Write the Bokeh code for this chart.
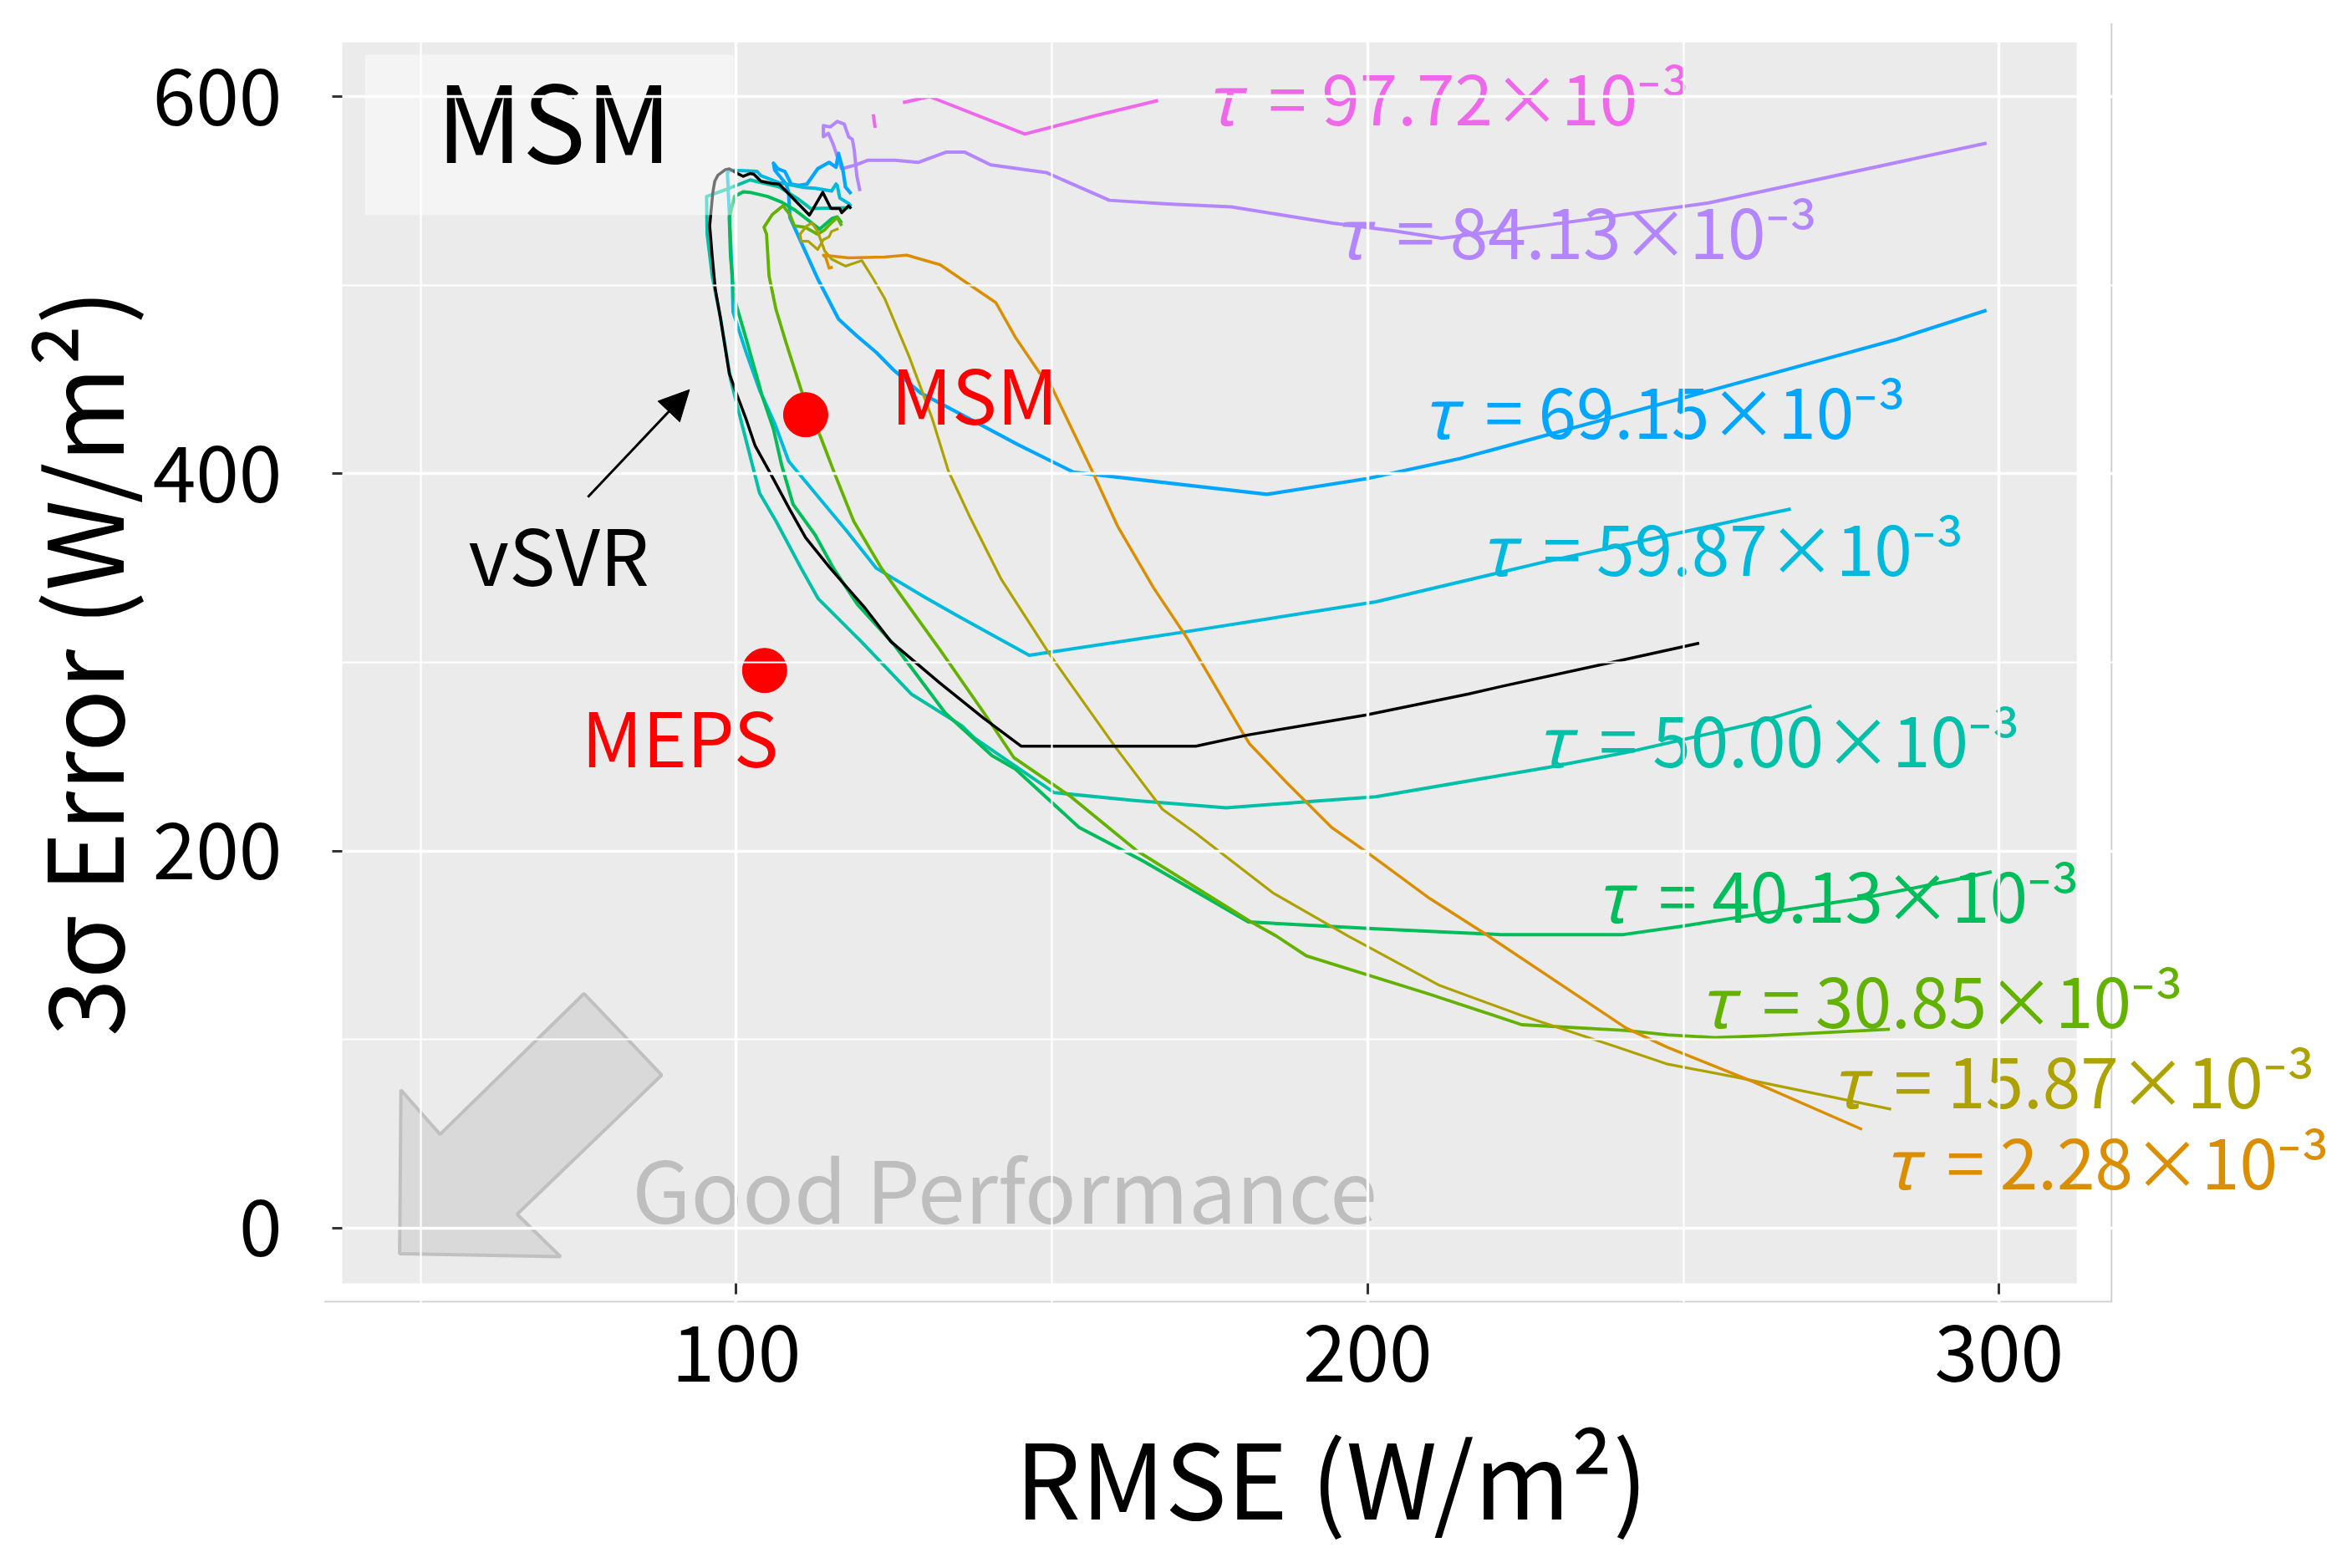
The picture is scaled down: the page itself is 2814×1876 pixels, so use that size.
import math
from bokeh.plotting import figure
from bokeh.models import Range1d, FixedTicker, Arrow, NormalHead
from bokeh.core.properties import value
from bokeh.embed import file_html
from bokeh.resources import INLINE

nan = float("nan")
FONT = "Noto Sans CJK JP"

# ---------------- data ----------------
tau_text = ["97.72", "84.13", "69.15", "59.87", "50.00", "40.13", "30.85", "15.87", "2.28"]
tau_colors = ["#EF67EB", "#B385FF", "#00A6FF", "#00BADE", "#00C1A7",
              "#00BD5C", "#64B200", "#AEA200", "#DB8E00"]

tau9772_x = [121.7, 122.0, nan, 126.4, 130.6, 145.7, 156.8, 166.8]
tau9772_y = [590.6, 583.4, nan, 596.8, 600.0, 580.1, 589.8, 597.9]

tau8413_x = [119.6, 119.1, 118.7, 118.4, 117.8, 117.1, 116.0, 114.9, 113.8, 113.8, 114.6, 115.4,
             116.2, 116.7, 119.1, 120.8, 125.2, 128.8, 133.2, 136.2, 140.3, 149.1, 159.1, 168.3,
             178.4, 194.5, 204.0, 211.7, 227.8, 254.0, 298.0]
tau8413_y = [549.9, 558.0, 571.3, 577.2, 578.7, 585.4, 586.8, 583.9, 584.6, 578.7, 580.5, 574.3,
             566.2, 561.7, 563.9, 566.2, 566.2, 565.1, 570.5, 570.5, 563.8, 559.7, 545.0, 543.1,
             541.5, 532.9, 528.9, 524.9, 531.6, 543.6, 575.3]

tau6915_x = [118.2, 117.3, 116.9, 116.2, 115.8, 114.7, 112.9, 111.2, 109.9, 108.7, 107.7, 106.6,
             105.9, 106.1, 107.9, 108.3, 108.5, 110.3, 112.9, 116.2, 119.1, 122.2, 124.8, 129.2,
             136.7, 144.6, 153.4, 184.0, 199.8, 214.7, 251.6, 283.7, 298.0]
tau6915_y = [548.4, 552.1, 561.0, 569.9, 562.5, 565.1, 561.7, 553.6, 552.9, 553.6, 560.3, 561.7,
             564.7, 561.0, 553.6, 549.2, 535.9, 522.6, 503.4, 482.0, 473.1, 464.3, 455.4, 442.9,
             429.6, 415.5, 400.9, 389.1, 397.4, 408.1, 441.7, 471.2, 486.7]

tau5987_x = [118.2, 117.8, 116.4, 116.0, 115.8, 115.1, 112.5, 110.7, 109.0, 106.8, 103.9, 103.3,
             98.9, 98.6, 98.9, 99.3, 99.5, 101.5, 103.7, 106.1, 108.3, 112.5, 117.3, 122.2,
             129.8, 135.4, 146.4, 149.9, 170.5, 201.3, 227.8, 261.1, 267.0]
tau5987_y = [541.8, 543.3, 546.2, 552.9, 553.6, 549.9, 551.4, 551.8, 552.9, 554.3, 558.1, 560.3,
             561.0, 559.5, 538.8, 509.3, 485.7, 465.0, 444.3, 426.6, 406.7, 389.7, 370.5, 349.9,
             334.7, 324.0, 303.8, 305.5, 315.9, 332.1, 353.1, 377.2, 381.3]

tau5000_x = [117.8, 111.8, 109.9, 106.8, 102.2, 98.6, 95.3, 95.4, 96.2, 97.5, 99.1, 100.2,
             103.7, 106.3, 110.3, 113.0, 119.8, 127.7, 135.7, 137.8, 150.3, 162.7, 177.6, 190.3,
             201.3, 228.5, 240.9, 260.9, 270.3]
tau5000_y = [541.1, 540.6, 545.5, 552.1, 555.8, 551.0, 547.0, 527.0, 504.9, 482.7, 450.2, 435.5,
             389.7, 374.9, 349.8, 333.7, 311.0, 283.3, 266.5, 259.7, 231.0, 226.9, 222.9, 226.1,
             228.8, 244.3, 252.2, 267.4, 276.9]

tau4013_x = [116.7, 116.0, 115.1, 113.2, 111.4, 109.4, 107.2, 105.0, 102.2, 101.1, 99.7, 98.9,
             99.1, 99.7, 101.5, 104.1, 105.9, 107.2, 109.0, 112.5, 115.4, 119.2, 125.0, 133.1,
             140.5, 144.2, 154.3, 164.4, 181.1, 201.3, 221.1, 240.5, 249.7, 265.1, 278.3, 293.7,
             298.8]
tau4013_y = [532.9, 536.2, 535.2, 529.7, 534.4, 539.6, 544.0, 547.0, 549.2, 549.5, 547.0, 535.9,
             515.2, 493.0, 472.4, 441.4, 423.7, 404.5, 383.8, 367.6, 349.9, 330.7, 309.4, 273.2,
             250.6, 243.5, 212.5, 194.8, 162.4, 158.7, 155.7, 155.7, 160.1, 168.2, 174.9, 185.2,
             189.0]

tau3085_x = [116.7, 116.0, 115.1, 114.0, 112.9, 110.9, 109.2, 108.5, 107.4, 105.7, 104.4, 104.8,
             105.2, 106.3, 107.9, 110.3, 113.4, 115.6, 118.6, 123.0, 132.2, 139.2, 144.0, 153.0,
             163.5, 181.5, 185.5, 190.3, 209.8, 224.4, 240.9, 247.5, 255.0, 262.9, 282.7]
tau3085_y = [531.5, 535.9, 533.2, 529.3, 527.0, 530.7, 531.5, 537.4, 542.1, 537.4, 530.7, 527.0,
             504.9, 487.1, 469.4, 444.3, 419.2, 400.0, 374.9, 349.9, 307.0, 273.4, 249.4, 228.8,
             200.0, 162.5, 155.0, 144.4, 124.1, 107.9, 104.9, 102.5, 101.1, 102.1, 105.5]

tau1587_x = [116.2, 115.1, 114.7, 113.8, 112.9, 111.4, 110.3, 110.1, 111.2, 112.0, 112.9, 114.0,
             115.1, 117.3, 119.9, 121.7, 123.5, 127.4, 131.0, 133.6, 137.1, 142.0, 149.4, 153.4,
             160.0, 167.5, 172.7, 185.0, 196.9, 211.4, 224.4, 239.6, 247.5, 258.9, 282.9]
tau1587_y = [530.0, 528.5, 525.6, 524.1, 518.9, 523.3, 523.3, 527.0, 531.5, 532.9, 528.5, 518.2,
             513.8, 510.1, 513.0, 503.4, 493.0, 462.0, 429.6, 401.5, 376.4, 343.9, 305.5, 286.4,
             255.3, 222.1, 209.6, 177.8, 154.9, 128.7, 112.8, 95.9, 87.0, 79.7, 63.1]

tau228_x = [115.3, 114.7, 114.2, 113.8, 117.8, 123.5, 127.0, 132.3, 141.1, 144.2, 148.1, 149.2,
            156.3, 160.4, 166.1, 171.4, 180.2, 181.3, 187.2, 194.3, 199.7, 209.8, 218.5, 240.9,
            247.5, 260.7, 278.3]
tau228_y = [509.6, 509.0, 514.5, 515.9, 514.5, 514.9, 515.9, 510.8, 490.8, 472.4, 453.2, 451.3,
            401.9, 372.2, 339.5, 312.9, 262.7, 256.8, 236.2, 212.5, 199.8, 174.9, 156.3, 106.2,
            95.9, 78.2, 52.4]

vsvr_x = [118.2, 117.8, 116.7, 116.4, 115.0, 113.7, 111.6, 106.8, 105.7, 103.9, 102.8, 102.2,
          101.1, 100.2, 98.9, 98.3, 97.1, 96.6, 96.3, 96.0, 95.8, 96.2, 96.7, 97.5, 98.9, 100.0,
          101.5, 103.0, 105.2, 108.5, 111.0, 114.9, 120.4, 124.5, 132.2, 139.2, 145.1, 172.8,
          181.0, 199.7, 216.0, 221.1, 239.7, 252.5]
vsvr_y = [540.6, 542.1, 538.4, 540.6, 540.6, 549.2, 537.1, 553.6, 553.9, 555.1, 558.8, 559.2,
          557.7, 559.2, 561.7, 561.3, 558.3, 555.1, 549.2, 538.8, 531.5, 515.2, 497.5, 482.7,
          453.2, 442.9, 429.6, 414.8, 401.5, 380.9, 366.1, 349.9, 328.8, 311.0, 289.2, 270.4,
          255.6, 255.6, 261.5, 272.1, 283.3, 287.2, 300.8, 310.2]

ref_names = ["MSM", "MEPS"]
ref_rmse = [111.0, 104.5]
ref_err = [431.3, 295.7]

x_ticks = [100, 200, 300]
x_minor = [50, 150, 250]
y_ticks = [0, 200, 400, 600]
y_minor = [100, 300, 500]

curves_x = [tau9772_x, tau8413_x, tau6915_x, tau5987_x, tau5000_x,
            tau4013_x, tau3085_x, tau1587_x, tau228_x]
curves_y = [tau9772_y, tau8413_y, tau6915_y, tau5987_y, tau5000_y,
            tau4013_y, tau3085_y, tau1587_y, tau228_y]

# ---------------- annotation positions (data units) ----------------
tau_lab_x = [174.2, 194.5, 208.5, 217.7, 226.6, 236.0, 252.4, 273.3, 281.6]
tau_lab_y = [585.2, 514.1, 418.8, 346.4, 245.0, 162.5, 106.5, 64.0, 21.0]
ref_lab_x = [124.5, 75.5]
ref_lab_y = [426.5, 244.7]
curve_widths = [4, 4, 4.2, 4, 4, 4, 3.8, 3.2, 3.5]

BASE = 0.42  # baseline correction (fraction of font size)

def off(size):
    return -BASE * size

X0, X1 = 34.70, 353.83
Y0, Y1 = -39.44, 639.0
W, H = 2798, 1870

p = figure(width=W, height=H,
           x_range=Range1d(X0, X1), y_range=Range1d(Y0, Y1),
           output_backend="svg", toolbar_location=None,
           min_border_left=379, min_border_right=0,
           min_border_top=27, min_border_bottom=H - 1558,
           background_fill_color="white", border_fill_color="white",
           outline_line_color=None)

# gray panel
p.quad(left=[37.6], right=[312.3], bottom=[-29.2], top=[628.7],
       fill_color="#EBEBEB", line_color=None, level="underlay")

xt = FixedTicker(ticks=x_ticks, minor_ticks=x_minor)
yt = FixedTicker(ticks=y_ticks, minor_ticks=y_minor)
p.xaxis.ticker = xt
p.yaxis.ticker = yt
p.xgrid.ticker = xt
p.ygrid.ticker = yt
for g in (p.xgrid, p.ygrid):
    g.level = "glyph"
    g.grid_line_color = "white"
    g.grid_line_width = 3.5
    g.minor_grid_line_color = "white"
    g.minor_grid_line_width = 2.2

for ax in (p.xaxis, p.yaxis):
    ax.axis_line_color = None
    ax.major_tick_line_color = "#333333"
    ax.major_tick_line_width = 3
    ax.major_tick_out = -10
    ax.minor_tick_line_color = None
    ax.minor_tick_out = 0
    ax.minor_tick_in = 0
    ax.major_label_text_font = FONT
    ax.major_label_text_font_size = "93px"
    ax.major_label_text_color = "black"
    ax.axis_label_text_font = FONT
    ax.axis_label_text_font_size = "124px"
    ax.axis_label_text_font_style = "normal"
    ax.axis_label_text_color = "black"
p.xaxis.major_tick_in = 23
p.yaxis.major_tick_in = 22
p.xaxis.major_label_standoff = 26
p.yaxis.major_label_standoff = 50
p.xaxis.axis_label = "RMSE (W/m²)"
p.yaxis.axis_label = "3σ Error (W/m²)"
p.xaxis.axis_label_standoff = 18
p.yaxis.axis_label_standoff = -4

# outer border (right and bottom)
p.segment(x0=[317.8, X0], y0=[Y0, Y0 + 0.45], x1=[317.8, 317.8], y1=[Y1, Y0 + 0.45],
          line_color="#D0D0D0", line_width=2)

# big "good performance" arrow
arrow_x = [46.9, 53.1, 75.9, 88.2, 65.3, 72.2, 46.7]
arrow_y = [73.3, 49.8, 124.4, 81.2, 7.4, -15.1, -13.5]
p.patch(arrow_x, arrow_y, fill_color="#D9D9D9", line_color="#C0C0C0", line_width=4)
p.text(x=[83.5], y=[3.2], text=["Good Performance"], text_font=value(FONT),
       text_font_size="102px", text_color="#BEBEBE", text_align="left",
       text_baseline="alphabetic", y_offset=off(102))

# curves
for cx, cy, col, w in zip(curves_x, curves_y, tau_colors, curve_widths):
    p.line(cx, cy, line_color=col, line_width=w, line_join="round")
p.line(vsvr_x, vsvr_y, line_color="black", line_width=3.5, line_join="round")

# reference forecasts
p.scatter(ref_rmse, ref_err, size=53, color="#FF0000")
p.text(x=ref_lab_x, y=ref_lab_y, text=ref_names, text_font=value(FONT),
       text_font_size="90px", text_color="#FF0000", text_align="left",
       text_baseline="alphabetic", y_offset=off(90))

# vSVR label + arrow
p.text(x=[57.6], y=[341.0], text=["vSVR"], text_font=value(FONT),
       text_font_size="93px", text_color="black", text_align="left",
       text_baseline="alphabetic", y_offset=off(93))
p.add_layout(Arrow(x_start=76.5, y_start=387.6, x_end=92.6, y_end=444.6,
                   line_width=3, line_color="black",
                   end=NormalHead(size=36, fill_color="black", line_color="black")))

# tau labels
for lx, ly, t, col in zip(tau_lab_x, tau_lab_y, tau_text, tau_colors):
    p.text(x=[lx], y=[ly], text=["τ"], text_font=value(FONT), text_font_size="82px",
           text_font_style="italic", text_color=col, text_align="left",
           text_baseline="alphabetic", y_offset=off(82))
    p.text(x=[lx], y=[ly], text=["= " + t + "×10⁻³"], text_font=value(FONT),
           text_font_size="82px", text_color=col, text_align="left",
           text_baseline="alphabetic", x_offset=76, y_offset=off(82))

# "MSM" panel tag box
p.quad(left=[41.2], right=[99.6], bottom=[537.2], top=[622.2],
       fill_color="white", fill_alpha=0.45, line_color=None)
p.text(x=[52.5], y=[565.7], text=["MSM"], text_font=value(FONT),
       text_font_size="127px", text_color="black", text_align="left",
       text_baseline="alphabetic", y_offset=off(127))

open("out.html", "w").write(file_html(p, INLINE))
